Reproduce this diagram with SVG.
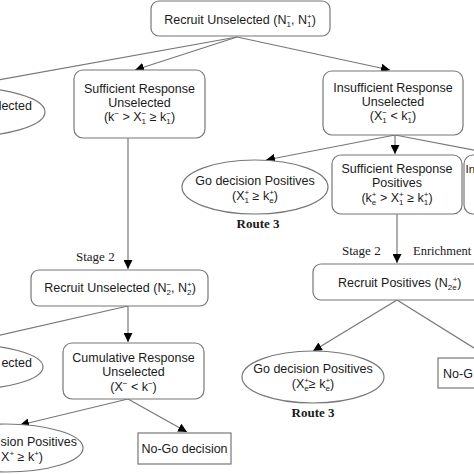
<svg xmlns="http://www.w3.org/2000/svg" width="474" height="474" viewBox="0 0 474 474">
<defs>
<marker id="ah" viewBox="0 0 10 10" refX="10" refY="5" markerWidth="9" markerHeight="9" markerUnits="userSpaceOnUse" orient="auto">
<path d="M0,0 L10,5 L0,10 z" fill="#000"/>
</marker>
<style>
.box{fill:#fff;stroke:#777;stroke-width:1.2}
.ell{fill:#fff;stroke:#777;stroke-width:1.2}
.t{font-family:"Liberation Sans",Arial,sans-serif;font-size:12.5px;fill:#1a1a1a;text-anchor:middle}
.ts{font-family:"Liberation Sans",Arial,sans-serif;font-size:12.5px;fill:#1a1a1a}
.te{font-family:"Liberation Sans",Arial,sans-serif;font-size:12.5px;fill:#1a1a1a;text-anchor:end}
.sb{font-size:8px}
.lab{font-family:"Liberation Serif","Times New Roman",serif;font-size:13px;fill:#1a1a1a}
.rt{font-family:"Liberation Serif","Times New Roman",serif;font-size:13px;font-weight:bold;fill:#1a1a1a;text-anchor:middle}
.c{fill:none;stroke:#777;stroke-width:1.2}
.ca{fill:none;stroke:#777;stroke-width:1.2;marker-end:url(#ah)}
</style>
</defs>
<rect width="474" height="474" fill="#fff"/>
<g id="connectors">
<line class="ca" x1="237" y1="37" x2="-30" y2="85"/>
<line class="ca" x1="237" y1="37" x2="135" y2="70"/>
<line class="ca" x1="237" y1="37" x2="390" y2="70"/>
<line class="ca" x1="128" y1="138" x2="128" y2="269"/>
<line class="ca" x1="395" y1="135" x2="266" y2="160"/>
<line class="ca" x1="395" y1="135" x2="395" y2="154"/>
<line class="c" x1="395" y1="135" x2="500" y2="155"/>
<line class="ca" x1="397" y1="214" x2="397" y2="263"/>
<line class="ca" x1="397" y1="300" x2="313" y2="351"/>
<line class="ca" x1="397" y1="300" x2="490" y2="358"/>
<line class="ca" x1="128" y1="306" x2="128" y2="342"/>
<line class="ca" x1="128" y1="306" x2="-30" y2="342"/>
<line class="ca" x1="128" y1="399" x2="20" y2="425"/>
<line class="ca" x1="128" y1="399" x2="187" y2="432"/>
</g>
<g id="recruit1">
<rect class="box" x="151" y="1" width="179" height="35" rx="8"/>
<text class="t" x="240" y="24">Recruit Unselected (N<tspan class="sb" dy="3">1</tspan><tspan class="sb" dx="-4.5" dy="-8">−</tspan><tspan dy="5">, N</tspan><tspan class="sb" dy="3">1</tspan><tspan class="sb" dx="-4.5" dy="-8">+</tspan><tspan dy="5">)</tspan></text>
</g>
<g id="ellipseLeft1">
<ellipse class="ell" cx="-40" cy="112" rx="85" ry="25"/>
<text class="te" x="32" y="110">lected</text>
</g>
<g id="suffUnsel">
<rect class="box" x="74" y="70" width="131" height="68" rx="9"/>
<text class="t" x="139.5" y="93">Sufficient Response</text>
<text class="t" x="139.5" y="107">Unselected</text>
<text class="t" x="139.5" y="121">(k<tspan class="sb" dy="-5">−</tspan><tspan dy="5"> &gt; X</tspan><tspan class="sb" dy="3">1</tspan><tspan class="sb" dx="-4.5" dy="-8">−</tspan><tspan dy="5"> ≥ k</tspan><tspan class="sb" dy="3">1</tspan><tspan class="sb" dx="-4.5" dy="-8">−</tspan><tspan dy="5">)</tspan></text>
</g>
<g id="insuffUnsel">
<rect class="box" x="323" y="71" width="140" height="64" rx="9"/>
<text class="t" x="393" y="92">Insufficient Response</text>
<text class="t" x="393" y="106">Unselected</text>
<text class="t" x="393" y="120">(X<tspan class="sb" dy="3">1</tspan><tspan class="sb" dx="-4.5" dy="-8">−</tspan><tspan dy="5"> &lt; k</tspan><tspan class="sb" dy="3">1</tspan><tspan class="sb" dx="-4.5" dy="-8">−</tspan><tspan dy="5">)</tspan></text>
</g>
<g id="goPos1">
<ellipse class="ell" cx="255" cy="187" rx="73" ry="27"/>
<text class="t" x="255" y="185">Go decision Positives</text>
<text class="t" x="255" y="200">(X<tspan class="sb" dy="3">1</tspan><tspan class="sb" dx="-4.5" dy="-8">+</tspan><tspan dy="5"> ≥ k</tspan><tspan class="sb" dy="3">e</tspan><tspan class="sb" dx="-4.5" dy="-8">+</tspan><tspan dy="5">)</tspan></text>
<text class="rt" x="258" y="228">Route 3</text>
</g>
<g id="suffPos">
<rect class="box" x="332" y="155" width="130" height="59" rx="9"/>
<text class="t" x="397" y="173">Sufficient Response</text>
<text class="t" x="397" y="187">Positives</text>
<text class="t" x="397" y="202">(k<tspan class="sb" dy="3">e</tspan><tspan class="sb" dx="-4.5" dy="-8">+</tspan><tspan dy="5"> &gt; X</tspan><tspan class="sb" dy="3">1</tspan><tspan class="sb" dx="-4.5" dy="-8">+</tspan><tspan dy="5"> ≥ k</tspan><tspan class="sb" dy="3">1</tspan><tspan class="sb" dx="-4.5" dy="-8">+</tspan><tspan dy="5">)</tspan></text>
</g>
<g id="insuffPos">
<rect class="box" x="464" y="155" width="130" height="59" rx="9"/>
<text class="ts" x="465.5" y="173" style="font-size:11.5px">In</text>
</g>
<g id="recruitPos">
<text class="lab" x="342" y="255">Stage 2</text>
<text class="lab" x="413" y="255" style="font-size:12.5px">Enrichment</text>
<rect class="box" x="313" y="264" width="170" height="36" rx="8"/>
<text class="ts" x="338" y="287">Recruit Positives (N<tspan class="sb" dy="3">2e</tspan><tspan class="sb" dx="-4" dy="-8">+</tspan><tspan dy="5">)</tspan></text>
</g>
<g id="goPos2">
<ellipse class="ell" cx="313" cy="377" rx="71" ry="26"/>
<text class="t" x="313" y="373">Go decision Positives</text>
<text class="t" x="313" y="388">(X<tspan class="sb" dy="3">e</tspan><tspan class="sb" dx="-4.5" dy="-8">+</tspan><tspan dy="5">≥ k</tspan><tspan class="sb" dy="3">e</tspan><tspan class="sb" dx="-4.5" dy="-8">+</tspan><tspan dy="5">)</tspan></text>
<text class="rt" x="313" y="417">Route 3</text>
</g>
<g id="noGoRight">
<rect class="box" x="438" y="358" width="100" height="30"/>
<text class="ts" x="443" y="378">No-G</text>
</g>
<g id="recruit2">
<text class="lab" x="76" y="261">Stage 2</text>
<rect class="box" x="31" y="270" width="177" height="36" rx="8"/>
<text class="t" x="120" y="292">Recruit Unselected (N<tspan class="sb" dy="3">2</tspan><tspan class="sb" dx="-4.5" dy="-8">−</tspan><tspan dy="5">, N</tspan><tspan class="sb" dy="3">2</tspan><tspan class="sb" dx="-4.5" dy="-8">+</tspan><tspan dy="5">)</tspan></text>
</g>
<g id="ellipseLeft2">
<ellipse class="ell" cx="-40" cy="367" rx="83" ry="23"/>
<text class="te" x="32" y="367">ected</text>
</g>
<g id="cumUnsel">
<rect class="box" x="63" y="343" width="141" height="56" rx="9"/>
<text class="t" x="133.5" y="362">Cumulative Response</text>
<text class="t" x="133.5" y="376">Unselected</text>
<text class="t" x="133.5" y="391">(X<tspan class="sb" dy="-5">−</tspan><tspan dy="5"> &lt; k</tspan><tspan class="sb" dy="-5">−</tspan><tspan dy="5">)</tspan></text>
</g>
<g id="goPos3">
<ellipse class="ell" cx="5" cy="448" rx="78" ry="24"/>
<text class="te" x="77" y="446">sion Positives</text>
<text class="te" x="43" y="461">X<tspan class="sb" dy="-5">+</tspan><tspan dy="5"> ≥ k</tspan><tspan class="sb" dy="-5">+</tspan><tspan dy="5">)</tspan></text>
</g>
<g id="noGoLeft">
<rect class="box" x="138" y="433" width="93" height="31"/>
<text class="t" x="184.5" y="453">No-Go decision</text>
</g>
</svg>
